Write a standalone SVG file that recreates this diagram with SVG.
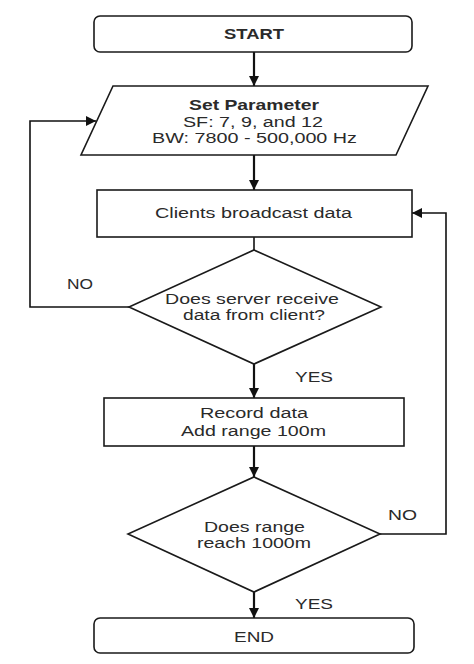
<svg xmlns="http://www.w3.org/2000/svg" width="474" height="664" viewBox="0 0 474 664">
<defs>
<style>
.shape{fill:#fff;stroke:#1a1a1a;stroke-width:1.6}
.t{font-family:"Liberation Sans",Arial,sans-serif;font-size:14px;fill:#2a2a2a;text-anchor:middle}
.b{font-weight:bold}
.line{fill:none;stroke:#111;stroke-width:1.6}
.v{stroke-width:2.2}
</style>
<marker id="ah" viewBox="0 0 10 10" refX="10" refY="5" markerWidth="10" markerHeight="10" markerUnits="userSpaceOnUse" orient="auto">
<path d="M0,0 L10,5 L0,10 z" fill="#111"/>
</marker>
</defs>
<rect width="474" height="664" fill="#fff"/>
<g id="connectors">
<path class="line v" d="M254,52 V86" marker-end="url(#ah)"/>
<path class="line v" d="M254,155 V190" marker-end="url(#ah)"/>
<path class="line" d="M254,237 V250"/>
<path class="line v" d="M254,364 V398" marker-end="url(#ah)"/>
<path class="line v" d="M254,446 V477" marker-end="url(#ah)"/>
<path class="line v" d="M254,592 V618" marker-end="url(#ah)"/>
<path class="line" d="M129,307 H30 V121 H96" marker-end="url(#ah)"/>
<path class="line" d="M380,534 H446 V213 H412" marker-end="url(#ah)"/>
<text class="t" x="80" y="289" textLength="26" lengthAdjust="spacingAndGlyphs">NO</text>
<text class="t" x="314" y="382" textLength="38" lengthAdjust="spacingAndGlyphs">YES</text>
<text class="t" x="402.5" y="520" textLength="29" lengthAdjust="spacingAndGlyphs">NO</text>
<text class="t" x="314" y="609" textLength="38" lengthAdjust="spacingAndGlyphs">YES</text>
</g>
<g id="start">
<rect class="shape" x="94" y="16" width="318" height="36" rx="6"/>
<text class="t b" x="254" y="39" textLength="60" lengthAdjust="spacingAndGlyphs">START</text>
</g>
<g id="set-parameter">
<polygon class="shape" points="113,86 428,86 396,155 81,155"/>
<text class="t b" x="254" y="110" textLength="130" lengthAdjust="spacingAndGlyphs">Set Parameter</text>
<text class="t" x="253" y="127" textLength="140" lengthAdjust="spacingAndGlyphs">SF: 7, 9, and 12</text>
<text class="t" x="254.5" y="143" textLength="205" lengthAdjust="spacingAndGlyphs">BW: 7800 - 500,000 Hz</text>
</g>
<g id="broadcast">
<rect class="shape" x="97" y="190" width="315" height="47"/>
<text class="t" x="253.5" y="218" textLength="197" lengthAdjust="spacingAndGlyphs">Clients broadcast data</text>
</g>
<g id="server-receive">
<polygon class="shape" points="254,250 381,307 254,364 129,307"/>
<text class="t" x="252" y="304" textLength="174" lengthAdjust="spacingAndGlyphs">Does server receive</text>
<text class="t" x="254" y="320" textLength="142" lengthAdjust="spacingAndGlyphs">data from client?</text>
</g>
<g id="record">
<rect class="shape" x="104" y="398" width="300" height="48"/>
<text class="t" x="254" y="418" textLength="108" lengthAdjust="spacingAndGlyphs">Record data</text>
<text class="t" x="253.5" y="436" textLength="145" lengthAdjust="spacingAndGlyphs">Add range 100m</text>
</g>
<g id="range-check">
<polygon class="shape" points="254,477 380,534 254,592 128,534"/>
<text class="t" x="254.5" y="532" textLength="101" lengthAdjust="spacingAndGlyphs">Does range</text>
<text class="t" x="254" y="548" textLength="114" lengthAdjust="spacingAndGlyphs">reach 1000m</text>
</g>
<g id="end">
<rect class="shape" x="94" y="618" width="320" height="35" rx="6"/>
<text class="t" x="254" y="642" textLength="40" lengthAdjust="spacingAndGlyphs">END</text>
</g>
</svg>
